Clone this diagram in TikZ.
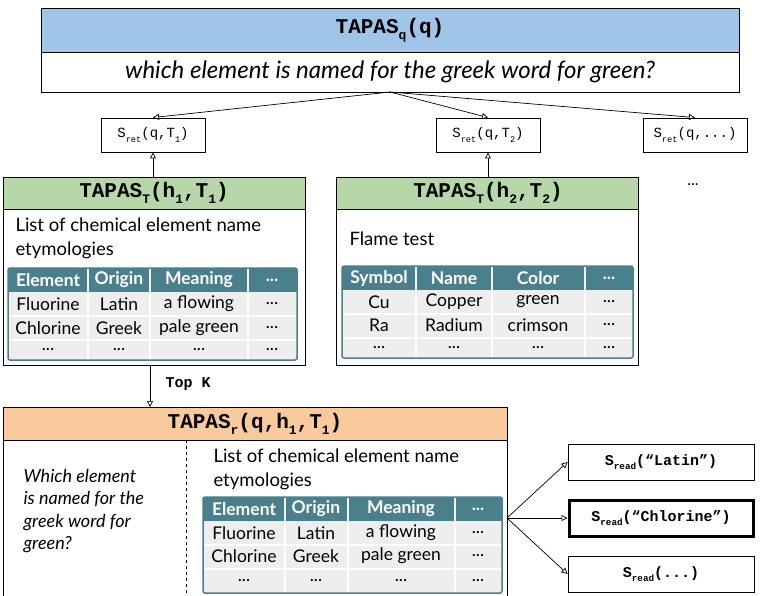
\documentclass[tikz,border=0pt]{standalone}
\usepackage{fontspec}
\setmainfont{Lato}
\setmonofont{Liberation Mono}
\usetikzlibrary{arrows.meta}
\definecolor{hblue}{HTML}{9FC5E8}
\definecolor{hgreen}{HTML}{B6D7A8}
\definecolor{horange}{HTML}{F9CB9C}
\definecolor{teal}{HTML}{4A7F8C}
\definecolor{rowg}{HTML}{EEEEEE}
\newcommand{\dd}{...}
\newcommand{\sub}[1]{\raisebox{-0.55ex}{\scalebox{0.62}{#1}}}
\tikzset{
 box/.style={draw,line width=0.9pt},
 arr/.style={-{Triangle[open,length=6pt,width=6pt]},line width=0.7pt},
 mono/.style={font=\fontsize{21}{24}\selectfont\ttfamily\bfseries},
 sm/.style={font=\fontsize{14}{16}\selectfont\ttfamily},
 rd/.style={font=\fontsize{15}{17}\selectfont\ttfamily\bfseries},
 body/.style={font=\fontsize{18.5}{24}\selectfont,anchor=west,align=left},
 cell/.style={font=\fontsize{17.5}{18}\selectfont},
 hcell/.style={font=\fontsize{17.5}{18}\selectfont\bfseries,text=white},
}
\begin{document}
\begin{tikzpicture}[x=1pt,y=-1pt]
\useasboundingbox (0,0) rectangle (762,596);
% top box
\fill[hblue] (41,8) rectangle (739,52);
\draw[box] (41,8) rectangle (739,92);
\draw[box] (41,52) -- (739,52);
\node[mono] (tq) at (390,30) {TAPAS\sub{q}(q)};
\node[font=\fontsize{24}{26}\selectfont\itshape] (qq) at (390,72) {which element is named for the greek word for green?};
\coordinate (qb) at (390,92);
% sret boxes
\node[box,sm,minimum width=104,minimum height=34,inner sep=0] (s1) at (153,135) {S\sub{ret}(q,T\sub{1})};
\node[box,sm,minimum width=104,minimum height=34,inner sep=0] (s2) at (488,135) {S\sub{ret}(q,T\sub{2})};
\node[box,sm,minimum width=104,minimum height=34,inner sep=0] (s3) at (695,135) {S\sub{ret}(q,\dd)};
\draw[arr] (qb) -- (s1.north);
\draw[arr] (qb) -- (s2.north);
\draw[arr] (qb) -- (s3.north);
\node[font=\fontsize{16}{18}\selectfont] (dots) at (693,185) {\dd};
% green box 1
\fill[hgreen] (3,177) rectangle (305,209);
\draw[box] (3,177) rectangle (305,365);
\draw[box] (3,209) -- (305,209);
\node[mono] (g1) at (154,193) {TAPAS\sub{T}(h\sub{1},T\sub{1})};
\coordinate (g1t) at (153,177);
\draw[arr] (g1t) -- (s1.south);
\node[body] (t1) at (12,238) {List of chemical element name\\etymologies};
% table 1
\fill[teal] (8,268) rectangle (297,292);
\fill[rowg] (8,292) rectangle (297,360);
\draw[white,line width=1.5pt] (8,316)--(297,316) (8,340)--(297,340);
\draw[white,line width=1.5pt] (88,292)--(88,360) (150,292)--(150,360) (248,292)--(248,360);
\draw[rowg!60!white,line width=1.2pt] (88,268)--(88,292) (150,268)--(150,292) (248,268)--(248,292);
\draw[teal,line width=1.5pt,rounded corners=2pt] (8,268) rectangle (297,360);
\foreach \x/\t in {48/Element,119/Origin,199/Meaning,272/\dd} \node[hcell] at (\x,280) {\t};
\foreach \x/\t in {48/Fluorine,119/Latin,199/a flowing,272/\dd} \node[cell] at (\x,304) {\t};
\foreach \x/\t in {48/Chlorine,119/Greek,199/pale green,272/\dd} \node[cell] at (\x,328) {\t};
\foreach \x in {48,119,199,272} \node[cell] at (\x,350) {\dd};
% green box 2
\fill[hgreen] (336,177) rectangle (638,209);
\draw[box] (336,177) rectangle (638,365);
\draw[box] (336,209) -- (638,209);
\node[mono] (g2) at (488,193) {TAPAS\sub{T}(h\sub{2},T\sub{2})};
\coordinate (g2t) at (488,177);
\draw[arr] (g2t) -- (s2.south);
\node[body] (t2) at (346,239) {Flame test};
\fill[teal] (342,266) rectangle (633,290);
\fill[rowg] (342,290) rectangle (633,358);
\draw[white,line width=1.5pt] (342,314)--(633,314) (342,338)--(633,338);
\draw[white,line width=1.5pt] (416,290)--(416,358) (492,290)--(492,358) (585,290)--(585,358);
\draw[rowg!60!white,line width=1.2pt] (416,266)--(416,290) (492,266)--(492,290) (585,266)--(585,290);
\draw[teal,line width=1.5pt,rounded corners=2pt] (342,266) rectangle (633,358);
\foreach \x/\t in {379/Symbol,454/Name,538/Color,609/\dd} \node[hcell] at (\x,278) {\t};
\foreach \x/\t in {379/Cu,454/Copper,538/green,609/\dd} \node[cell] at (\x,302) {\t};
\foreach \x/\t in {379/Ra,454/Radium,538/crimson,609/\dd} \node[cell] at (\x,325) {\t};
\foreach \x in {379,454,538,609} \node[cell] at (\x,348) {\dd};
% top K
\coordinate (g1b) at (150,365);
\coordinate (ot) at (150,407);
\draw[arr] (g1b) -- (ot);
\node[font=\fontsize{15}{17}\selectfont\ttfamily\bfseries,anchor=west] (tk) at (162,384) {Top K};
% orange box
\fill[horange] (3,407) rectangle (507,440);
\draw[box] (3,407) rectangle (507,640);
\draw[box] (3,440) -- (507,440);
\node[mono] (rh) at (255,424) {TAPAS\sub{r}(q,h\sub{1},T\sub{1})};
\draw[dashed,line width=0.8pt] (186,440) -- (186,596);
\node[body,font=\fontsize{18}{22.5}\selectfont\itshape] (rq) at (20,511) {Which element\\is named for the\\greek word for\\green?};
\node[body] (t3) at (210,469) {List of chemical element name\\etymologies};
\fill[teal] (203,497) rectangle (502,521);
\fill[rowg] (203,521) rectangle (502,593);
\draw[white,line width=1.5pt] (203,545)--(502,545) (203,569)--(502,569);
\draw[white,line width=1.5pt] (285,521)--(285,593) (348,521)--(348,593) (455,521)--(455,593);
\draw[rowg!60!white,line width=1.2pt] (285,497)--(285,521) (348,497)--(348,521) (455,497)--(455,521);
\draw[teal,line width=1.5pt,rounded corners=2pt] (203,497) rectangle (502,593);
\foreach \x/\t in {244/Element,316/Origin,401/Meaning,478/\dd} \node[hcell] at (\x,509) {\t};
\foreach \x/\t in {244/Fluorine,316/Latin,401/a flowing,478/\dd} \node[cell] at (\x,533) {\t};
\foreach \x/\t in {244/Chlorine,316/Greek,401/pale green,478/\dd} \node[cell] at (\x,556) {\t};
\foreach \x in {244,316,401,478} \node[cell] at (\x,581) {\dd};
% read boxes
\node[box,rd,minimum width=186,minimum height=36,inner sep=0] (r1) at (661,462) {S\sub{read}(“Latin”)};
\node[draw,line width=3pt,rd,minimum width=184,minimum height=36,inner sep=0] (r2) at (661,518) {S\sub{read}(“Chlorine”)};
\node[box,rd,minimum width=186,minimum height=36,inner sep=0] (r3) at (661,574) {S\sub{read}(\dd)};
\coordinate (ob) at (507,518);
\draw[arr] (ob) -- (r1.west);
\draw[arr] (ob) -- (r2.west);
\draw[arr] (ob) -- (r3.west);
\end{tikzpicture}
\end{document}
